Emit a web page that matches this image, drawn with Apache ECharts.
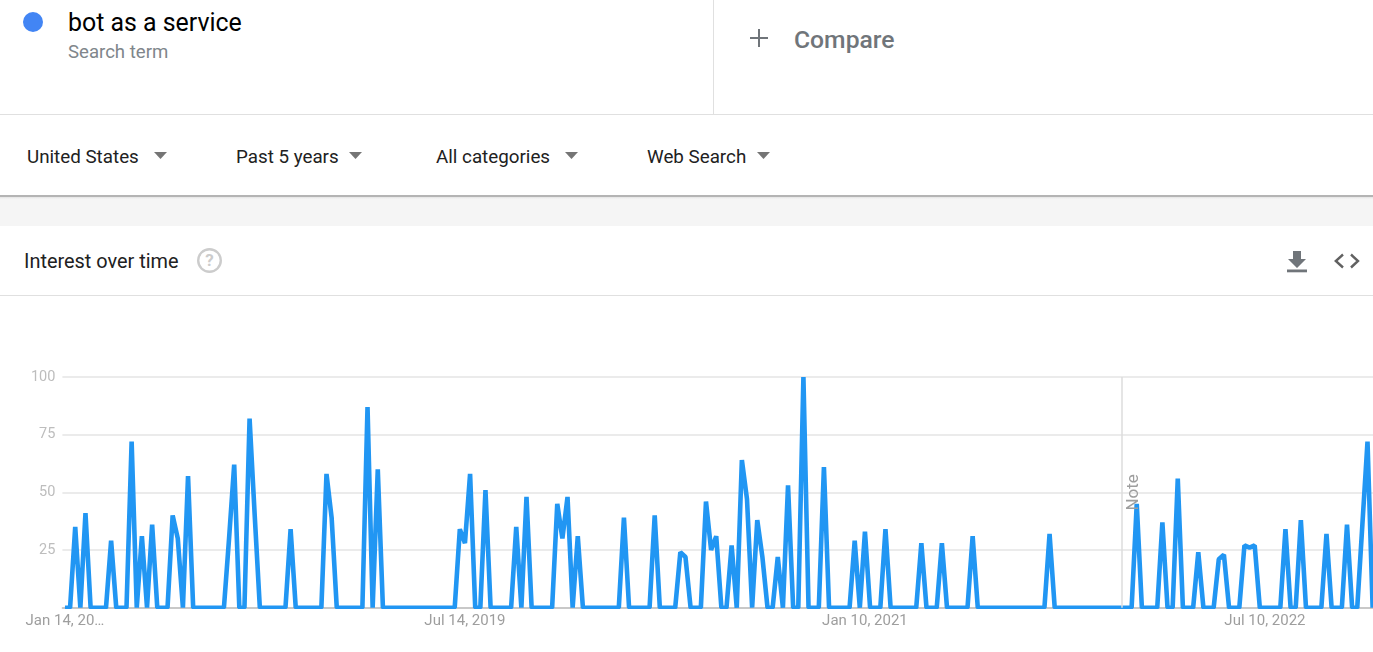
<!DOCTYPE html>
<html><head><meta charset="utf-8">
<script src="https://cdn.jsdelivr.net/npm/echarts@6/dist/echarts.min.js"></script>
<style>
html,body{margin:0;padding:0;background:#fff;width:1373px;height:652px;overflow:hidden;font-family:Roboto,sans-serif}
.a{position:absolute;white-space:nowrap}
.f{font-size:18.800px;color:#212121;line-height:22px;top:146px}
svg{position:absolute;overflow:visible}
</style></head><body>
<div class="a" style="left:713px;top:0;width:1px;height:114px;background:#e0e0e0"></div>
<div class="a" style="left:0;top:114px;width:1373px;height:1px;background:#e0e0e0"></div>
<svg style="left:0;top:0" width="60" height="40"><circle cx="33" cy="22" r="10" fill="#4285f4"/></svg>
<div class="a" style="left:68px;top:8px;font-size:24.900px;line-height:30px;color:#000">bot as a service</div>
<div class="a" style="left:68px;top:41px;font-size:18.600px;line-height:22px;color:#80868b">Search term</div>
<svg style="left:750px;top:29px" width="18" height="18"><path d="M8 0h2v8h8v2h-8v8h-2v-8h-8v-2h8z" fill="#70757a"/></svg>
<div class="a" style="left:794px;top:25px;font-size:24.700px;line-height:30px;font-weight:500;color:#70757a">Compare</div>
<div class="a f" style="left:27px">United States</div>
<div class="a f" style="left:236px">Past 5 years</div>
<div class="a f" style="left:436px">All categories</div>
<div class="a f" style="left:647px">Web Search</div>
<svg style="left:0;top:0" width="800" height="170" fill="#757575">
<path d="M154 152h13l-6.500 7z"/><path d="M349 152h13l-6.500 7z"/><path d="M565 152h13l-6.500 7z"/><path d="M757 152h13l-6.500 7z"/></svg>
<div class="a" style="left:0;top:195px;width:1373px;height:2px;background:#b4b4b4"></div>
<div class="a" style="left:0;top:197px;width:1373px;height:29px;background:linear-gradient(#e4e4e4 0,#f5f5f5 2px)"></div>
<div class="a" style="left:24px;top:251px;font-size:19.900px;line-height:22px;color:#212121">Interest over time</div>
<svg style="left:197px;top:248px" width="25" height="25"><circle cx="12.500" cy="12.500" r="11.300" fill="none" stroke="#cccccc" stroke-width="2.400"/></svg>
<div class="a" style="left:197px;top:248px;width:25px;text-align:center;font-size:17px;line-height:25px;font-weight:700;color:#cccccc">?</div>
<svg style="left:1287px;top:251px" width="20" height="22" fill="#70757a"><path d="M6 0h8v8h5l-9 9-9-9h5z"/><rect x="0" y="18.500" width="20" height="2.800"/></svg>
<svg style="left:1334px;top:253px" width="26" height="16" fill="none" stroke="#616161" stroke-width="2.400"><path d="M9 1.500 1.800 8 9 14.500"/><path d="M17 1.500 24 8 17 14.500"/></svg>
<div class="a" style="left:0;top:295px;width:1373px;height:1px;background:#e0e0e0"></div>
<div id="chart" class="a" style="left:0;top:296px;width:1373px;height:356px"></div>
<div class="a" style="left:0;top:609px;width:1373px;height:3px;background:#fff"></div>
<script>
// Weekly interest for "bot as a service", week 0 = Jan 14, 2018
const startDate = [2018, 0, 14];
const spikeWeeks = [2,4,9,13,15,17,21,22,24,32,33,36,37,44,51,52,59,61,77,78,79,82,88,90,96,97,98,100,109,115,120,121,125,126,127,130,132,133,135,136,139,141,144,148,154,156,160,167,171,177,192,209,214,217,221,225,226,230,231,232,238,241,246,250,253,254];
const spikeValues = [35,41,29,72,31,36,40,30,57,30,62,82,40,34,58,39,87,60,34,28,58,51,35,48,45,30,48,31,39,40,24,22,46,25,31,27,64,47,38,22,22,53,100,61,29,33,34,28,28,31,32,45,37,56,24,21,23,27,26,27,34,38,32,36,36,72];
const weekCount = 256;
const xTickWeeks = [0,78,156,234];
const xTickLabels = ["Jan 14, 20\u2026","Jul 14, 2019","Jan 10, 2021","Jul 10, 2022"];
const noteWeek = 206;

const categories = [];
const values = [];
for (let i = 0; i < weekCount; i++) {
  const d = new Date(startDate[0], startDate[1], startDate[2] + 7 * i);
  categories.push(d.toISOString().slice(0,10));
  const k = spikeWeeks.indexOf(i);
  values.push(k >= 0 ? spikeValues[k] : 0);
}
const chart = echarts.init(document.getElementById('chart'), null, {renderer:'canvas'});
chart.setOption({
  animation:false,
  backgroundColor:'transparent',
  grid:{left:62.4, top:81, height:230.7, width:1312.8, containLabel:false, outerBoundsMode:'none'},
  tooltip:{show:false},
  xAxis:{type:'category', data:categories, boundaryGap:true,
    axisLine:{show:true, lineStyle:{color:'#bdbdbd', width:1.5}},
    axisTick:{show:false}, splitLine:{show:false},
    axisLabel:{
      interval:(i)=>xTickWeeks.includes(i),
      formatter:(v,i)=>{const k=xTickWeeks.indexOf(i);return k>=0?xTickLabels[k]:'';},
      color:'#9e9e9e', fontFamily:'Roboto', fontSize:15, margin:6, hideOverlap:false
    }},
  yAxis:{type:'value', min:0, max:100, interval:25,
    axisLine:{show:false}, axisTick:{show:false},
    splitLine:{lineStyle:{color:'#e4e4e4', width:1.5}},
    axisLabel:{color:'#bdbdbd', fontFamily:'Roboto', fontSize:14.500, margin:7, padding:[4,0,0,0],
      formatter:(v)=> v===0?'':String(v)}},
  series:[{type:'line', data:values, showSymbol:false, symbol:'none', smooth:false,
    clip:false,
    lineStyle:{color:'#2196f3', width:4.6, join:'bevel', cap:'butt'},
    markLine:{silent:true, symbol:'none', animation:false,
      lineStyle:{color:'#dddddd', width:1.5, type:'solid'},
      label:{show:true, formatter:'Note', position:'insideMiddleBottom', color:'#9e9e9e', fontFamily:'Roboto', fontSize:17, distance:4},
      data:[{xAxis:noteWeek}]}
  }]
});
</script>
</body></html>
